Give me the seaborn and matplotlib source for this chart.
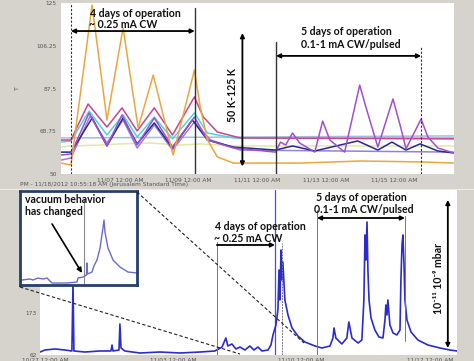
import numpy as np
import pandas as pd
import matplotlib
matplotlib.use("Agg")
import matplotlib.pyplot as plt
import matplotlib.transforms as mtransforms
from matplotlib.lines import Line2D
import seaborn as sns

# ---------------- data: top panel (temperature, days since 11/05 00:00) ----------------
top_ticks = [2, 4, 6, 8, 10]
top_tick_labels = ["11/07 12:00 AM", "11/09 12:00 AM", "11/11 12:00 AM", "11/13 12:00 AM", "11/15 12:00 AM"]
top_yticks = [50, 68.75, 87.5, 106.25, 125]
top_ytick_labels = ["50", "68.75", "87.5", "106.25", "125"]

orange_x = [0.10, 0.39, 1.006, 1.44, 1.91, 2.35, 2.79, 3.37, 3.99, 4.16, 4.37, 4.66, 5.13, 7.09, 8.84, 10.6, 11.56]
orange_y = [54.8, 53.9, 124.1, 73.7, 114.0, 70.2, 93.4, 58.3, 95.6, 79.4, 64.9, 57.5, 54.8, 54.8, 55.7, 55.3, 54.8]

magenta_x = [0.10, 0.39, 0.89, 1.44, 1.88, 2.32, 2.82, 3.35, 3.99, 4.25, 4.66, 5.33, 11.56]
magenta_y = [64.9, 64.9, 80.7, 70.6, 79.0, 68.9, 79.0, 67.1, 83.8, 75.0, 68.4, 65.8, 65.4]

cyan_x = [0.10, 0.39, 0.92, 1.44, 1.91, 2.32, 2.82, 3.35, 3.99, 4.37, 5.13, 11.56]
cyan_y = [64.0, 64.5, 77.6, 67.1, 75.9, 66.2, 75.0, 65.4, 76.8, 68.0, 65.8, 65.8]

purple_x = [0.10, 0.39, 0.92, 1.44, 1.88, 2.32, 2.82, 3.35, 3.99, 4.37, 5.13, 6.36, 6.50, 6.65, 6.85,
            7.06, 7.50, 7.73, 7.94, 8.37, 8.81, 8.99, 9.34, 9.78, 10.01, 10.16, 10.60, 10.80, 11.09, 11.56]
purple_y = [58.3, 58.8, 76.8, 62.3, 75.9, 62.7, 74.6, 61.8, 75.0, 64.9, 61.4, 59.6, 64.0, 62.7, 68.0,
            63.6, 59.6, 73.2, 64.9, 59.6, 89.0, 79.4, 61.8, 82.9, 70.2, 61.0, 74.1, 66.2, 61.4, 59.2]

navy_x = [0.10, 0.39, 0.65, 1.01, 1.44, 1.91, 2.32, 2.82, 3.35, 3.93, 4.37, 5.13, 6.36, 6.85, 7.50,
          8.75, 9.34, 9.75, 10.16, 10.57, 11.09, 11.56]
navy_y = [59.6, 59.6, 65.8, 74.6, 62.3, 74.6, 63.2, 72.4, 61.4, 73.7, 64.9, 61.8, 60.5, 62.3, 60.1,
          64.5, 60.5, 64.0, 60.5, 63.2, 60.1, 59.2]

violet_x = [0.10, 0.39, 0.95, 1.44, 1.91, 2.32, 2.82, 3.35, 3.99, 4.46, 5.33, 11.56]
violet_y = [56.1, 57.0, 75.4, 63.6, 73.7, 61.4, 71.5, 60.5, 72.8, 64.9, 60.5, 59.6]

yellow_x = [0.10, 0.39, 1.24, 1.82, 2.70, 3.58, 4.16, 5.19, 11.56]
yellow_y = [61.8, 62.3, 62.7, 63.2, 63.6, 62.7, 63.2, 62.3, 62.3]

grayblue_x = [0.10, 11.56]
grayblue_y = [65.8, 66.7]

# ---------------- data: bottom panel (vacuum, days since 10/27 00:00) ----------------
bot_ticks = [0, 7, 14, 21]
bot_tick_labels = ["10/27 12:00 AM", "11/03 12:00 AM", "11/10 12:00 AM", "11/17 12:00 AM"]
bot_yticks = [62, 173]
bot_ytick_labels = ["62", "173"]

vac_x = [-0.27, 0.0, 0.55, 1.09, 1.47, 1.53, 1.58, 2.18, 3.0, 3.60, 3.66, 3.71, 4.04, 4.09, 4.15, 4.36,
         5.18, 6.27, 7.36, 8.46, 9.27, 9.66, 9.87, 9.98, 10.2, 10.42, 10.64, 10.91, 11.18, 11.40, 11.62,
         11.84, 12.17, 12.33, 12.44, 12.60, 12.71, 12.77, 12.82, 12.88, 12.93, 12.98, 13.09, 13.26, 13.48,
         13.80, 14.18, 14.73, 15.11, 15.55, 15.71, 15.77, 15.87, 16.20, 16.47, 16.58, 16.75, 17.08, 17.29,
         17.40, 17.46, 17.51, 17.57, 17.62, 17.68, 17.79, 18.00, 18.22, 18.44, 18.55, 18.60, 18.66, 18.71,
         18.82, 18.99, 19.20, 19.37, 19.42, 19.48, 19.53, 19.59, 19.64, 19.75, 19.97, 20.35, 20.89, 21.55,
         22.09, 22.48]
vac_y = [69.9, 75.2, 77.9, 75.2, 72.6, 252.3, 72.6, 69.9, 72.6, 72.6, 88.4, 72.6, 75.2, 144.0, 80.5, 72.6,
         67.3, 69.9, 67.3, 69.9, 72.6, 83.1, 106.9, 85.8, 91.1, 77.9, 83.1, 75.2, 85.8, 75.2, 83.1,
         72.6, 75.2, 88.4, 114.9, 141.3, 180.9, 286.7, 207.4, 339.5, 260.2, 307.8, 207.4, 167.7, 133.4,
         112.2, 96.4, 85.8, 80.5, 85.8, 106.9, 133.4, 106.9, 91.1, 106.9, 149.2, 106.9, 93.7, 101.6,
         207.4, 379.2, 313.1, 413.5, 286.7, 207.4, 159.8, 128.1, 109.6, 106.9, 154.5, 194.2, 167.7, 207.4,
         141.3, 120.2, 114.9, 128.1, 260.2, 352.7, 379.2, 299.9, 207.4, 154.5, 122.8, 101.6, 88.4, 80.5,
         75.2, 72.6]

# inset (zoomed view, relative units 0-100)
ins_x = [0, 1.7, 8.5, 11.1, 15.4, 19.7, 23.1, 25.6, 27.4, 40.2, 48.7, 49.6, 53.8, 56.8, 57.3, 57.7,
         61.5, 63.2, 65.8, 68.4, 70.9, 71.8, 72.6, 75.2, 79.5, 85.5, 92.3, 100]
ins_y = [3.2, 5.3, 6.4, 5.3, 7.4, 6.4, 7.4, 4.3, 2.1, 2.1, 3.2, 7.4, 8.5, 10.6, 23.4, 11.7,
         13.8, 20.2, 26.6, 39.4, 60.6, 69.1, 56.4, 39.4, 26.6, 19.1, 13.8, 12.8]

# ---------------- figure ----------------
BG = "#d6d3cd"
sns.set_theme(style="white")
plt.rcParams["font.family"] = ["Lato", "DejaVu Sans"]

fig = plt.figure(figsize=(4.74, 3.61), dpi=100, facecolor=BG)
W, H = 474, 361

def fax(x0, y0, x1, y1):
    return [x0 / W, 1 - y1 / H, (x1 - x0) / W, (y1 - y0) / H]

FS = 7.6
tkw = dict(fontsize=FS, fontweight="bold", color="#111111", ha="center", va="center")
arrow_kw = dict(arrowstyle="<|-|>", color="black", lw=1.3, mutation_scale=6, shrinkA=0, shrinkB=0)
small = dict(fontsize=4.2, color="#555555", family="DejaVu Sans")

# ---- top panel ----
ax1 = fig.add_axes(fax(61, 3, 454, 174))
ax1.set_facecolor("white")
series = [("grayblue", grayblue_x, grayblue_y), ("yellow", yellow_x, yellow_y),
          ("violet", violet_x, violet_y), ("navy", navy_x, navy_y), ("cyan", cyan_x, cyan_y),
          ("magenta", magenta_x, magenta_y), ("purple", purple_x, purple_y), ("orange", orange_x, orange_y)]
frames = [pd.DataFrame({"day": xs, "T": ys, "series": name}) for name, xs, ys in series]
df_top = pd.concat(frames, ignore_index=True)
palette = {"grayblue": "#a9bcd6", "yellow": "#e2e8a8", "violet": "#9a7fd6", "navy": "#232b8c",
           "cyan": "#4fd3e3", "magenta": "#c8468a", "purple": "#a14fd0", "orange": "#eaa640"}
sns.lineplot(data=df_top, x="day", y="T", hue="series", palette=palette, estimator=None,
             sort=False, legend=False, lw=1.1, ax=ax1)
ax1.set_xlim(0.10, 11.56)
ax1.set_ylim(50, 125)
ax1.set_xticks(top_ticks)
ax1.set_xticklabels(top_tick_labels, **small)
ax1.set_yticks(top_yticks)
ax1.set_yticklabels(top_ytick_labels, **small)
ax1.tick_params(axis="both", length=2.0, width=0.6, color="#555555", pad=1.0, direction="out")
ax1.tick_params(axis="x", pad=0.5)
ax1.set_xlabel("")
ax1.set_ylabel("T", fontsize=4.5, color="#555555", family="DejaVu Sans", labelpad=12)
for s in ax1.spines.values():
    s.set_visible(False)
off = mtransforms.ScaledTranslation(-6 / 100, 0, fig.dpi_scale_trans)
for lab in ax1.get_xticklabels():
    lab.set_transform(lab.get_transform() + off)

# annotations top
ax1.plot([0.39, 0.39], [50, 125], color="#333333", lw=0.8, ls=(0, (2, 1.5)))
ax1.plot([4.0, 4.0], [50, 123], color="#333333", lw=1.0)
ax1.plot([6.37, 6.37], [50, 107.7], color="#333333", lw=1.0)
ax1.plot([10.6, 10.6], [50, 105.5], color="#333333", lw=0.8, ls=(0, (2, 1.5)))
ax1.annotate("", xy=(0.39, 112.7), xytext=(4.0, 112.7), arrowprops=arrow_kw)
ax1.annotate("", xy=(6.37, 101.8), xytext=(10.6, 101.8), arrowprops=arrow_kw)
ax1.annotate("", xy=(5.39, 111.8), xytext=(5.39, 53.3), arrowprops=arrow_kw)
ax1.text(2.26, 120.6, "4 days of operation", **tkw)
ax1.text(1.91, 115.4, "~ 0.25 mA CW", **tkw)
ax1.text(8.43, 112.3, "5 days of operation", **tkw)
ax1.text(8.55, 107.0, "0.1-1 mA CW/pulsed", **tkw)
ax1.text(5.10, 84.6, "50 K-125 K", rotation=90, **tkw)

# status bar
fig.text(20 / W, 1 - 184.5 / H, "PM - 11/18/2012 10:55:18 AM (Jerusalem Standard Time)",
         va="center", ha="left", **small)
fig.add_artist(Line2D([0, 1], [1 - 189 / H] * 2, color="#eeece8", lw=0.8))

# ---- bottom panel ----
ax2 = fig.add_axes(fax(40, 190, 457, 355))
ax2.set_facecolor("white")
df_vac = pd.DataFrame({"day": vac_x, "p": vac_y})
ax2.plot([12.55, 12.55], [62, 498], color="#4a4ae6", lw=0.9, zorder=1)
sns.lineplot(data=df_vac, x="day", y="p", color="#2b2bd0", lw=1.2, estimator=None, sort=False, ax=ax2)
ax2.set_xlim(-0.27, 22.48)
ax2.set_ylim(62, 498)
ax2.set_xticks(bot_ticks)
ax2.set_xticklabels(bot_tick_labels, **small)
ax2.set_yticks(bot_yticks)
ax2.set_yticklabels(bot_ytick_labels, **small)
ax2.tick_params(axis="both", length=1.5, width=0.6, color="#555555", pad=1.0, direction="out")
ax2.tick_params(axis="x", pad=0.2)
ax2.set_xlabel("")
ax2.set_ylabel("")
for s in ax2.spines.values():
    s.set_visible(False)

ax2.plot([9.38, 9.38], [62, 360], color="#777777", lw=0.7)
ax2.plot([12.93, 12.93], [62, 358], color="#777777", lw=0.7, ls=(0, (2, 1)))
ax2.plot([14.84, 14.84], [62, 445], color="#777777", lw=0.7)
ax2.plot([19.64, 19.64], [100, 430], color="#777777", lw=0.7)
ax2.annotate("", xy=(9.38, 352.7), xytext=(12.55, 352.7),
             arrowprops=dict(arrowstyle="<|-", color="black", lw=1.3, mutation_scale=6, shrinkA=0, shrinkB=0))
ax2.annotate("", xy=(14.84, 424), xytext=(19.64, 424), arrowprops=arrow_kw)
ax2.annotate("", xy=(21.98, 471.7), xytext=(21.98, 80.5), arrowprops=arrow_kw)
ax2.text(11.73, 400.3, "4 days of operation", **tkw)
ax2.text(11.07, 368.6, "~ 0.25 mA CW", **tkw)
ax2.text(17.24, 477, "5 days of operation", **tkw)
ax2.text(17.40, 445.2, "0.1-1 mA CW/pulsed", **tkw)
ax2.text(21.45, 265.5, "10\u207b\u00b9\u00b9 10\u207b\u2079 mbar", rotation=90, **tkw)

# ---- inset ----
ax3 = fig.add_axes(fax(20, 191, 137, 285))
ax3.set_facecolor("white")
ax3.plot([54.7, 54.7], [0, 90], color="#8a8a8a", lw=0.8)
df_ins = pd.DataFrame({"x": ins_x, "y": ins_y})
sns.lineplot(data=df_ins, x="x", y="y", color="#6b6bd0", lw=1.0, estimator=None, sort=False, ax=ax3)
ax3.set_xlim(0, 100)
ax3.set_ylim(0, 100)
ax3.set_xticks([])
ax3.set_yticks([])
ax3.set_xlabel("")
ax3.set_ylabel("")
for s in ax3.spines.values():
    s.set_visible(True)
    s.set_color("#24406a")
    s.set_linewidth(2.0)
ax3.text(4.3, 91.0, "vacuum behavior", **{**tkw, "ha": "left"})
ax3.text(4.3, 78.0, "has changed", **{**tkw, "ha": "left"})
ax3.annotate("", xy=(53.0, 12.8), xytext=(27.4, 64.9),
             arrowprops=dict(arrowstyle="-|>", color="black", lw=1.2, mutation_scale=7, shrinkA=0, shrinkB=0))

# connector dashed lines (figure coords)
for (xa, ya, xb, yb) in [(137, 192, 304, 343), (20, 287, 240, 354)]:
    fig.add_artist(Line2D([xa / W, xb / W], [1 - ya / H, 1 - yb / H], color="#222222",
                          lw=0.8, ls=(0, (3, 2)), zorder=5))

fig.savefig("out.png", dpi=100, facecolor=BG)
